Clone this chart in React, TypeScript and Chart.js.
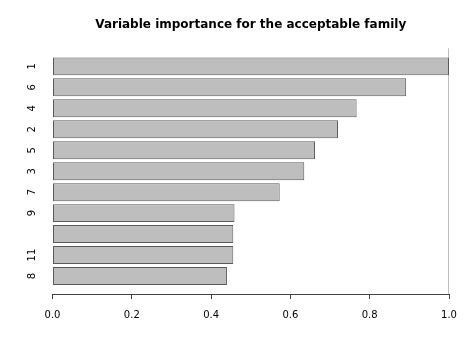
import React, { useEffect, useRef } from "react";
import { Chart, registerables } from "chart.js";

Chart.register(...registerables);

const titleText = "Variable importance for the acceptable family";
const variableLabels = ["1", "6", "4", "2", "5", "3", "7", "9", "", "11", "8"];
const importance = [1.0, 0.892, 0.767, 0.72, 0.662, 0.635, 0.573, 0.459, 0.456, 0.456, 0.44];
const xTicks = [0, 0.2, 0.4, 0.6, 0.8, 1.0];
const referenceValue = 1.0;

const FONT = "'DejaVu Sans', sans-serif";

const refLinePlugin = {
  id: "refLine",
  beforeDatasetsDraw(chart: any) {
    const { ctx, chartArea, scales } = chart;
    const x = Math.round(scales.x.getPixelForValue(referenceValue)) - 0.5;
    ctx.save();
    ctx.strokeStyle = "#bebebe";
    ctx.lineWidth = 1;
    ctx.beginPath();
    ctx.moveTo(x, chartArea.top);
    ctx.lineTo(x, chartArea.bottom);
    ctx.stroke();
    ctx.restore();
  },
};

export default function App() {
  const ref = useRef<HTMLCanvasElement>(null);
  useEffect(() => {
    if (!ref.current) return;
    const idx = variableLabels.map((_, i) => i);
    const yMin = -0.857;
    const yMax = variableLabels.length - 1 + 0.857;
    const chart = new Chart(ref.current, {
      type: "bar",
      data: {
        datasets: [
          {
            data: importance.map((v, i) => ({ x: v, y: idx[i] })),
            backgroundColor: "#bebebe",
            borderColor: "#5a5a5a",
            borderWidth: 1,
            borderSkipped: false,
            barPercentage: 0.857,
            categoryPercentage: 1,
          },
        ],
      },
      options: {
        indexAxis: "y",
        animation: false,
        responsive: false,
        layout: { padding: { left: 12.5, right: 25, top: 0, bottom: 24 } },
        plugins: {
          legend: { display: false },
          tooltip: { enabled: false },
          title: {
            display: true,
            fullSize: false,
            text: titleText,
            color: "#000",
            font: { family: FONT, size: 12, weight: "bold" },
            padding: { top: 18, bottom: 16 },
          },
        },
        scales: {
          x: {
            type: "linear",
            min: 0,
            max: 1,
            afterBuildTicks: (scale: any) => {
              scale.ticks = xTicks.map((v) => ({ value: v }));
            },
            ticks: {
              color: "#000",
              font: { family: FONT, size: 10 },
              padding: 10,
              callback: (v: any) => Number(v).toFixed(1),
            },
            grid: {
              display: true,
              drawOnChartArea: false,
              drawTicks: true,
              tickLength: 5,
              color: "#444",
            },
            border: { display: true, color: "#444" },
          },
          y: {
            type: "linear",
            reverse: true,
            offset: false,
            bounds: "data",
            min: yMin,
            max: yMax,
            afterDataLimits: (scale: any) => {
              scale.min = yMin;
              scale.max = yMax;
            },
            afterBuildTicks: (scale: any) => {
              scale.min = yMin;
              scale.max = yMax;
              scale.ticks = idx.map((v) => ({ value: v }));
            },
            ticks: {
              color: "#000",
              font: { family: FONT, size: 10 },
              autoSkip: false,
              minRotation: 90,
              maxRotation: 90,
              crossAlign: "center",
              padding: 14,
              callback: (v: any) => variableLabels[v] ?? "",
            },
            grid: { display: false, offset: false, drawTicks: false, tickLength: 0 },
            border: { display: false },
          },
        },
      },
      plugins: [refLinePlugin],
    } as any);
    return () => chart.destroy();
  }, []);
  return (
    <div style={{ position: "absolute", left: 0, top: 0, width: 474, height: 355, background: "#fff" }}>
      <canvas ref={ref} width={474} height={355} style={{ display: "block" }} />
    </div>
  );
}
